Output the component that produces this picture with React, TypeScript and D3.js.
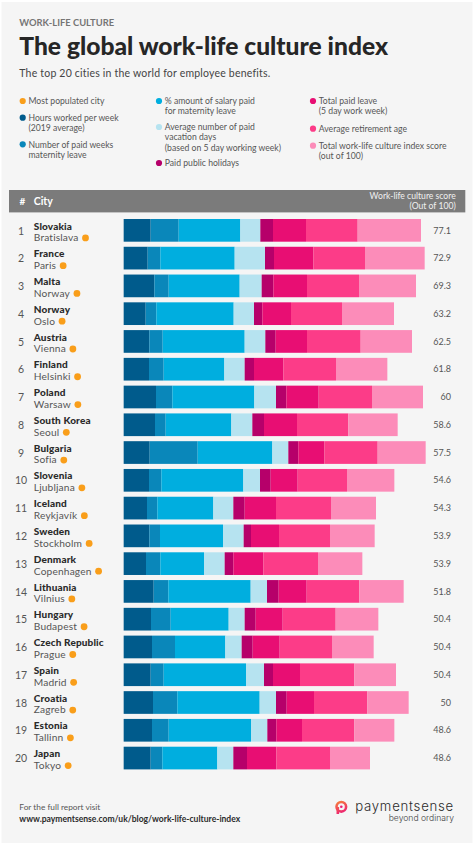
import React, { useRef, useEffect } from 'react';
import * as d3 from 'd3';

const countries = ['Slovakia', 'France', 'Malta', 'Norway', 'Austria', 'Finland', 'Poland', 'South Korea', 'Bulgaria', 'Slovenia', 'Iceland', 'Sweden', 'Denmark', 'Lithuania', 'Hungary', 'Czech Republic', 'Spain', 'Croatia', 'Estonia', 'Japan'];
const cities = ['Bratislava', 'Paris', 'Norway', 'Oslo', 'Vienna', 'Helsinki', 'Warsaw', 'Seoul', 'Sofia', 'Ljubljana', 'Reykjavík', 'Stockholm', 'Copenhagen', 'Vilnius', 'Budapest', 'Prague', 'Madrid', 'Zagreb', 'Tallinn', 'Tokyo'];
const scores = ['77.1', '72.9', '69.3', '63.2', '62.5', '61.8', '60', '58.6', '57.5', '54.6', '54.3', '53.9', '53.9', '51.8', '50.4', '50.4', '50.4', '50', '48.6', '48.6'];

// segment lengths (no axis in the original, so arbitrary units)
const hours = [81, 72, 92, 66, 77, 76, 97, 94, 78, 76, 70, 77, 67, 90, 82, 85, 81, 88, 85, 81];
const maternityWeeks = [84, 38, 43, 32, 40, 44, 49, 32, 144, 37, 31, 32, 43, 44, 59, 69, 39, 73, 50, 35];
const maternitySalary = [185, 223, 213, 232, 246, 182, 246, 197, 224, 246, 168, 189, 131, 247, 174, 151, 247, 247, 247, 165];
const vacationDays = [60, 91, 66, 61, 62, 61, 65, 63, 48, 50, 60, 62, 62, 49, 48, 49, 54, 49, 49, 48];
const publicHolidays = [38, 27, 35, 25, 31, 28, 31, 35, 30, 32, 34, 22, 26, 35, 33, 33, 27, 32, 27, 41];
const totalLeave = [99, 118, 101, 86, 94, 88, 97, 99, 78, 81, 94, 84, 90, 84, 81, 81, 81, 82, 77, 88];
const retirementAge = [155, 155, 156, 153, 161, 158, 160, 154, 160, 148, 165, 153, 164, 158, 159, 157, 163, 160, 157, 161];
const indexScore = [190, 179, 171, 156, 154, 154, 153, 148, 144, 142, 135, 134, 133, 133, 128, 125, 125, 124, 120, 120];

const seriesKeys = ['hours', 'weeks', 'salary', 'vacation', 'holidays', 'leave', 'retirement', 'score'];
const seriesColors = ['#005b8c', '#0a87ba', '#00aedf', '#b6e3f0', '#b6006a', '#e80e73', '#fc3c88', '#fc8cb9'];
const cityDotColor = '#f99e1a';

const legendItems = [
  { color: cityDotColor, lines: ['Most populated city'] },
  { color: seriesColors[0], lines: ['Hours worked per week', '(2019 average)'] },
  { color: seriesColors[1], lines: ['Number of paid weeks', 'maternity leave'] },
  { color: seriesColors[2], lines: ['% amount of salary paid', 'for maternity leave'] },
  { color: seriesColors[3], lines: ['Average number of paid', 'vacation days', '(based on 5 day working week)'] },
  { color: seriesColors[4], lines: ['Paid public holidays'] },
  { color: seriesColors[5], lines: ['Total paid leave', '(5 day work week)'] },
  { color: seriesColors[6], lines: ['Average retirement age'] },
  { color: seriesColors[7], lines: ['Total work-life culture index score', '(out of 100)'] },
];
const legendX = [22.7, 22.7, 22.7, 159, 159, 159, 313, 313, 313];
const legendY = [101, 117.7, 144.3, 101, 127, 163, 101, 128.7, 145.7];

const FONT = 'Lato, sans-serif';

export default function App(): React.ReactElement {
  const ref = useRef<SVGSVGElement | null>(null);

  useEffect(() => {
    if (!ref.current) return;
    const svg = d3.select(ref.current);
    svg.selectAll('*').remove();

    const width = 474;
    const height = 845;

    svg.append('rect').attr('width', width).attr('height', height).attr('fill', '#ffffff');
    svg.append('rect').attr('x', 1.5).attr('y', 2).attr('width', 471).attr('height', 841).attr('fill', '#f5f5f5');

    const addText = (x: number, y: number, s: string, size: number, fill: string, weight = 400, anchor = 'start', spacing = 0, family = FONT) =>
      svg.append('text')
        .attr('x', x)
        .attr('y', y)
        .attr('text-anchor', anchor)
        .attr('font-family', family)
        .attr('font-size', size)
        .attr('font-weight', weight)
        .attr('letter-spacing', spacing)
        .attr('fill', fill)
        .text(s);

    addText(19.3, 26, 'WORK-LIFE CULTURE', 9.4, '#757575', 700);
    addText(19.3, 55, 'The global work-life culture index', 24.6, '#262626', 900);
    addText(19.3, 77, 'The top 20 cities in the world for employee benefits.', 10.5, '#444444', 400, 'start', 0.2);

    // legend
    legendItems.forEach((item, i) => {
      const dotX = legendX[i];
      const dotY = legendY[i];
      svg.append('circle').attr('cx', dotX).attr('cy', dotY).attr('r', 3.1).attr('fill', item.color);
      item.lines.forEach((line, j) => {
        addText(dotX + 5.8, dotY + 3.2 + j * 10.2, line, 8.65, '#555555');
      });
    });

    // header band
    svg.append('rect').attr('x', 9).attr('y', 190).attr('width', 456.3).attr('height', 22.4).attr('fill', '#7b7b7b');
    addText(22.3, 205, '#', 10, '#ffffff', 700, 'middle');
    addText(33.7, 205, 'City', 10.5, '#ffffff', 700);
    addText(455.7, 199, 'Work-life culture score', 8.6, '#f0f0f0', 400, 'end');
    addText(455.7, 209, '(Out of 100)', 8.6, '#f0f0f0', 400, 'end');

    // stacked bars
    const rows = countries.map((_, i) => ({
      hours: hours[i],
      weeks: maternityWeeks[i],
      salary: maternitySalary[i],
      vacation: vacationDays[i],
      holidays: publicHolidays[i],
      leave: totalLeave[i],
      retirement: retirementAge[i],
      score: indexScore[i],
    }));
    const stacked = d3.stack<any>().keys(seriesKeys)(rows);

    const x = d3.scaleLinear().domain([0, 900]).range([123.67, 423.67]);
    const y = d3.scaleBand<number>()
      .domain(d3.range(countries.length))
      .range([219, 769.4])
      .paddingInner(0.183);

    svg.append('g')
      .selectAll('g')
      .data(stacked)
      .join('g')
      .attr('fill', (_, i) => seriesColors[i])
      .selectAll('rect')
      .data(d => d.map((v, i) => ({ v, i })))
      .join('rect')
      .attr('x', d => x(d.v[0]))
      .attr('y', d => y(d.i)!)
      .attr('width', d => x(d.v[1]) - x(d.v[0]))
      .attr('height', y.bandwidth());

    // row labels
    countries.forEach((name, i) => {
      const top = y(i)!;
      addText(21, top + 15.5, String(i + 1), 10.5, '#555555', 400, 'middle');
      addText(33.8, top + 10.5, name, 10, '#2b2b2b', 900, 'start', 0.15);
      const city = addText(33.8, top + 22.3, cities[i], 10.2, '#555555', 400, 'start', 0.15);
      const cityEnd = 33.8 + (city.node() as SVGTextElement).getComputedTextLength();
      svg.append('circle').attr('cx', cityEnd + 7).attr('cy', top + 18.9).attr('r', 3.4).attr('fill', cityDotColor);
      addText(451, top + 14.5, scores[i], 9, '#555555', 400, 'end');
    });

    // footer
    addText(19.3, 810, 'For the full report visit', 8.3, '#555555');
    addText(19.3, 821.5, 'www.paymentsense.com/uk/blog/work-life-culture-index', 8.55, '#2b2b2b', 700);

    // logo
    const grad = svg.append('defs').append('linearGradient')
      .attr('id', 'logoGrad')
      .attr('gradientUnits', 'userSpaceOnUse')
      .attr('x1', 337).attr('y1', 801).attr('x2', 343).attr('y2', 814);
    grad.append('stop').attr('offset', '0%').attr('stop-color', '#f7823a');
    grad.append('stop').attr('offset', '100%').attr('stop-color', '#ec1a78');
    svg.append('circle').attr('cx', 341.3).attr('cy', 806.8).attr('r', 4.8).attr('fill', 'none').attr('stroke', 'url(#logoGrad)').attr('stroke-width', 2.6);
    svg.append('circle').attr('cx', 341.3).attr('cy', 806.8).attr('r', 1.3).attr('fill', '#ec1a78');
    svg.append('line').attr('x1', 337.8).attr('x2', 337.8).attr('y1', 807).attr('y2', 814).attr('stroke', 'url(#logoGrad)').attr('stroke-width', 2.6);
    addText(454, 810.5, 'paymentsense', 13.2, '#2b2b2b', 300, 'end', 0.75, 'Inter, sans-serif');
    addText(454, 821.3, 'beyond ordinary', 8.6, '#444444', 300, 'end', 0, 'Inter, sans-serif');
  }, []);

  return <svg ref={ref} width={474} height={845} style={{ position: 'absolute', left: 0, top: 0 }} />;
}
